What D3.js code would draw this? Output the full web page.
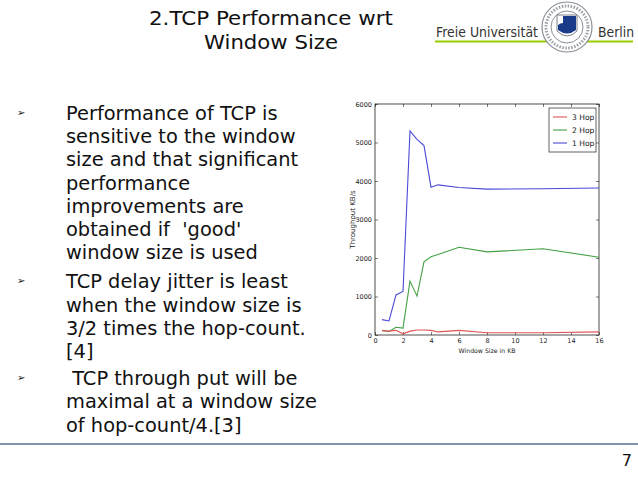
<!DOCTYPE html>
<html><head><meta charset="utf-8">
<script src="https://cdn.jsdelivr.net/npm/d3@7"></script>
<style>
html,body{margin:0;padding:0;background:#fff;}
svg{display:block;}
</style></head>
<body>
<svg id="s" width="638" height="478"></svg>
<script>
// ---- data ----
const windowSizes = [0.5, 1, 1.5, 2, 2.5, 3, 3.5, 4, 4.5, 6, 8, 12, 16];
const hop1 = [400, 365, 1040, 1130, 5300, 5080, 4920, 3840, 3900, 3830, 3790, 3800, 3820];
const hop2 = [110, 90, 200, 180, 1400, 1010, 1900, 2030, 2090, 2280, 2160, 2240, 2020];
const hop3 = [120, 100, 120, 30, 100, 130, 130, 120, 80, 120, 60, 60, 80];
const seriesNames = ["3 Hop", "2 Hop", "1 Hop"];
const seriesColors = ["#e05555", "#44a044", "#4a4ad8"];
const xTicks = [0, 2, 4, 6, 8, 10, 12, 14, 16];
const yTicks = [0, 1000, 2000, 3000, 4000, 5000, 6000];
const titleLines = ["2.TCP Performance wrt", "Window Size"];
const bullets = [
  ["Performance of TCP is", "sensitive to the window", "size and that significant", "performance", "improvements are", "obtained if  'good'", "window size is used"],
  ["TCP delay jitter is least", "when the window size is", "3/2 times the hop-count.", "[4]"],
  [" TCP through put will be", "maximal at a window size", "of hop-count/4.[3]"]
];

const svg = d3.select("#s");
const font = "'DejaVu Sans', Verdana, sans-serif";

// ---- title ----
const titleWidths = [244, 134];
titleLines.forEach((t, i) => {
  svg.append("text").attr("x", 271).attr("y", 25 + i * 23.5).attr("text-anchor", "middle")
    .attr("font-family", font).attr("font-size", 19.5).attr("fill", "#111")
    .attr("textLength", titleWidths[i]).attr("lengthAdjust", "spacingAndGlyphs").text(t);
});

// ---- logo ----
const logo = svg.append("g");
logo.append("text").attr("x", 436).attr("y", 37).attr("font-family", font)
  .attr("font-size", 13.5).attr("fill", "#333").attr("textLength", 102)
  .attr("lengthAdjust", "spacingAndGlyphs").text("Freie Universität");
logo.append("text").attr("x", 598).attr("y", 37).attr("font-family", font)
  .attr("font-size", 13.5).attr("fill", "#333").attr("textLength", 36)
  .attr("lengthAdjust", "spacingAndGlyphs").text("Berlin");
logo.append("rect").attr("x", 435).attr("y", 40.5).attr("width", 198).attr("height", 2).attr("fill", "#9c0");
const seal = logo.append("g").attr("transform", "translate(567,27)");
seal.append("circle").attr("r", 25).attr("fill", "#fff").attr("stroke", "#8a8f98").attr("stroke-width", 1.2);
seal.append("circle").attr("r", 21).attr("fill", "none").attr("stroke", "#9aa0a8").attr("stroke-width", 3).attr("stroke-dasharray", "1.5,1.5");
seal.append("circle").attr("r", 16).attr("fill", "#fff").attr("stroke", "#8a8f98").attr("stroke-width", 1);
seal.append("path").attr("d", "M-10,-12 L10,-12 L10,4 Q0,14 -10,4 Z").attr("fill", "#fff").attr("stroke", "#7a808a").attr("stroke-width", 1);
seal.append("rect").attr("x", -4).attr("y", -11).attr("width", 13).attr("height", 12).attr("fill", "#1a3a8a");
seal.append("path").attr("d", "M-9,-2 Q-4,-6 0,-2 Q4,2 9,-1 L9,3 Q0,10 -9,3 Z").attr("fill", "#1a3a8a");

// ---- bullets ----
const lineH = 23.2;
let y = 120;
const bulletGaps = [0, 6, 4];
bullets.forEach((b, bi) => {
  y += bulletGaps[bi];
  svg.append("text").attr("x", 17).attr("y", y - 4.5).attr("font-family", font)
    .attr("font-size", 10).attr("fill", "#111").text("➢");
  b.forEach((ln) => {
    svg.append("text").attr("x", 66).attr("y", y).attr("font-family", font)
      .attr("font-size", 19.4).attr("fill", "#111")
      .style("white-space", "pre").text(ln);
    y += lineH;
  });
});

// ---- rule + page number ----
svg.append("rect").attr("x", 0).attr("y", 443).attr("width", 638).attr("height", 2).attr("fill", "#7f95ae");
svg.append("text").attr("x", 632).attr("y", 466).attr("text-anchor", "end").attr("font-family", font)
  .attr("font-size", 16).attr("fill", "#111").text("7");

// ---- chart ----
const L = 375, R = 599, T = 104, B = 335;
const x = d3.scaleLinear().domain([0, 16]).range([L, R]);
const yS = d3.scaleLinear().domain([0, 6000]).range([B, T]);
const chart = svg.append("g");

const tickFont = 6.5;
const xAxis = chart.append("g").attr("transform", `translate(0,${B})`)
  .call(d3.axisBottom(x).tickValues(xTicks).tickSize(-3).tickPadding(3).tickFormat(d3.format("d")));
const yAxis = chart.append("g").attr("transform", `translate(${L},0)`)
  .call(d3.axisLeft(yS).tickValues(yTicks).tickSize(-3).tickPadding(3).tickFormat(d3.format("d")));
const xAxisT = chart.append("g").attr("transform", `translate(0,${T})`)
  .call(d3.axisTop(x).tickValues(xTicks).tickSize(-3).tickFormat(""));
const yAxisR = chart.append("g").attr("transform", `translate(${R},0)`)
  .call(d3.axisRight(yS).tickValues(yTicks).tickSize(-3).tickFormat(""));
[xAxis, yAxis, xAxisT, yAxisR].forEach(a => {
  a.select(".domain").remove();
  a.selectAll("line").attr("stroke", "#222").attr("stroke-width", 0.6);
  a.selectAll("text").attr("font-family", font).attr("font-size", tickFont).attr("fill", "#222");
});
chart.append("rect").attr("x", L).attr("y", T).attr("width", R - L).attr("height", B - T)
  .attr("fill", "none").attr("stroke", "#222").attr("stroke-width", 0.8);

const line = d3.line().x((d, i) => x(windowSizes[i])).y(d => yS(d));
const allSeries = [hop3, hop2, hop1];
[hop1, hop2, hop3].forEach((s) => {
  const idx = allSeries.indexOf(s);
  chart.append("path").datum(s).attr("d", line).attr("fill", "none")
    .attr("stroke", seriesColors[idx]).attr("stroke-width", 1.1);
});

// axis labels
chart.append("text").attr("x", (L + R) / 2).attr("y", 353).attr("text-anchor", "middle")
  .attr("font-family", font).attr("font-size", 6.2).attr("fill", "#222").text("Window Size in KB");
chart.append("text").attr("transform", `translate(355,${(T + B) / 2}) rotate(-90)`).attr("text-anchor", "middle")
  .attr("font-family", font).attr("font-size", 7).attr("fill", "#222").text("Throughput KB/s");

// legend
const lg = chart.append("g");
lg.append("rect").attr("x", 549).attr("y", 108).attr("width", 47).attr("height", 44)
  .attr("fill", "#fff").attr("stroke", "#222").attr("stroke-width", 0.7);
seriesNames.forEach((n, i) => {
  const ly = 117 + i * 13;
  lg.append("line").attr("x1", 553).attr("x2", 567).attr("y1", ly).attr("y2", ly)
    .attr("stroke", seriesColors[i]).attr("stroke-width", 1.1);
  lg.append("text").attr("x", 572).attr("y", ly + 2.7).attr("font-family", font)
    .attr("font-size", 7.6).attr("fill", "#222").text(n);
});
</script>
</body></html>
